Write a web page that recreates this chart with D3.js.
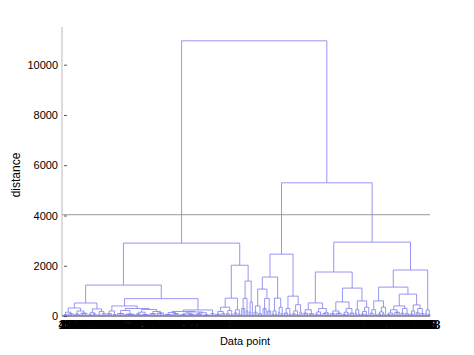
<!DOCTYPE html>
<html><head><meta charset="utf-8">
<script src="https://cdn.jsdelivr.net/npm/d3@7"></script>
<style>body{margin:0;background:#fff}svg{display:block}</style>
</head><body><svg id="c" width="474" height="355"></svg>
<script>
// Merge heights of the upper tree: root, L, R, LL, LR, RL, RR
const mergeHeights = [10950, 2900, 5300, 1230, 2020, 2460, 2940];
const yTicks = [0, 2000, 4000, 6000, 8000, 10000];
const cutoff = 4030;
// Subtrees: [height, ...children]; a bare number is a leaf (its label)
const LLL = [517,
  [320, [150, [60, 1,45,23], [90, 112,7,88,160]], [200, [70, 34,201,56,19], [110, 140,8,77,92,15]]],
  [280, [130, [50, 66,103,29], [80, 171,2,95]], [180, [40, 58,133,11], [100, 184,47,120]]]];
const LLR = [690,
  [400, [200, [90, 5,150,73,31], [60, 207,99,64]],
        [300, [220, [100, 18,125,86,42,169], [70, 33,210,57,101,144,21,166]],
              [260, [150, [80, 9,191,62,117], [60, 203,27,81,148,96]],
                    [180, [90, 40,155,14,76,229], [120, 110,52,186,3,139]]]]],
  [240, [180, [140, [60, 13,172,90,46,121], [90, 199,36,68,154,2]],
              [160, [110, [50, 83,118,25,204,61], [70, 141,10,97,177,219]],
                    [130, [80, 53,230,30,113,162], [40, 71,190,38,126,6]]]],
        [100, 85,174,48]]];
const LRL = [710,
  [350, [180, [70, 22,159,107,65], [100, 196,39,131]], [220, [90, 75,213,17], [60, 146,54]]],
  [250, [120, 181,28,93], [80, 206,59]]];
const LRR = [1390,
  [700, [300, 67,185,43], [200, 128,211]],
  [550, [150, 87,20], 164]];
const RLL = [1550,
  [1070, [400, [150, 16,197,79], [90, 134,50,223]], [700, [300, 104,37,178], [200, 60,215,122]]],
  [710, [200, [80, 32,151], [60, 89,170]], [350, [130, 200,12], [100, 143,74]]]];
const RLR = [790,
  [300, [120, 55,192,106], [70, 35,158]],
  [450, [200, [90, 119,4,226], [60, 72,187]], [150, 44,137]]];
const RRL = [1750,
  [520, [250, [110, 84,209,26,163], [90, 127,51,195,70]],
        [300, [160, [70, 100,24,176], [50, 147,63]], [130, [100, 217,41,111], [80, 182,98]]]],
  [1110, [560, [200, [90, 8,124,205,58], [110, 153,82,36,193]],
               [300, [150, [60, 116,29,224], [90, 66,179]], [120, 145,49,208]]],
         [600, [250, [100, 94,168], [70, 21,135]],
               [350, [180, [80, 212,57,102], [60, 173,15]], 129]]]];
const RRR = [1830,
  [1150, [600, [250, [110, 78,198,43], [60, 142,19]],
               [350, [160, [70, 227,61,105], [90, 175,30]], 152]],
         [870, [400, [250, [120, [60, 91,216,39], [80, 160,11]], [150, 123,69,189,47]],
                     [300, [110, 202,86,134], [90, 27,171,109]]],
               [440, [200, [80, 56,225,99], 150], [300, [130, 188,17,76], [100, 138,220,64]]]]],
  [240, [90, 115,183], [60, 31,228]]];

const [hRoot, hL, hR, hLL, hLR, hRL, hRR] = mergeHeights;
const tree = [hRoot, [hL, [hLL, LLL, LLR], [hLR, LRL, LRR]], [hR, [hRL, RLL, RLR], [hRR, RRL, RRR]]];

const svg = d3.select("#c");
const root = d3.hierarchy(tree, d => Array.isArray(d) ? d.slice(1) : null);
d3.cluster().size([1, 1]).separation(() => 1)(root);
const leaves = root.leaves();
const hOf = n => Array.isArray(n.data) ? n.data[0] : 0;

const x = d3.scaleLinear().domain([leaves[0].x, leaves[leaves.length - 1].x]).range([64, 430]);
const y = d3.scaleLinear().domain([0, 11500]).range([316, 27]);

// leaf labels (overlapping, as in the reference)
svg.append("g").selectAll("text").data(leaves).join("text")
  .attr("x", d => x(d.x)).attr("y", 329)
  .attr("text-anchor", "middle")
  .style("font", "bold 12.5px 'Liberation Sans', Arial, sans-serif").attr("fill", "#000")
  .text(d => d.data);

// y axis
const yAxis = d3.axisRight(y).tickValues(yTicks).tickSize(3).tickFormat(d3.format("d"));
const ga = svg.append("g").attr("transform", "translate(62,0)").call(yAxis);
ga.select(".domain").remove();
ga.selectAll(".tick line").attr("stroke", "#555").attr("x1", 2).attr("x2", 5);
ga.selectAll(".tick text").attr("x", -4).attr("text-anchor", "end")
  .style("font", "11px 'Liberation Sans', Arial, sans-serif").attr("fill", "#000");
svg.append("line").attr("x1", 62).attr("x2", 62).attr("y1", y(11500)).attr("y2", y(0))
  .attr("stroke", "#bbb").attr("stroke-width", 1);
svg.append("line").attr("x1", 62).attr("x2", 430).attr("y1", y(0)).attr("y2", y(0))
  .attr("stroke", "#334").attr("stroke-width", 1);

// cutoff line
svg.append("line").attr("x1", 62).attr("x2", 430).attr("y1", y(cutoff)).attr("y2", y(cutoff))
  .attr("stroke", "#999").attr("stroke-width", 1);

// dendrogram links
svg.append("g").selectAll("path").data(root.descendants().filter(d => d.parent)).join("path")
  .attr("d", d => `M${x(d.x)},${y(hOf(d))}V${y(hOf(d.parent))}H${x(d.parent.x)}`)
  .attr("fill", "none").attr("stroke", "#7b7bf0").attr("stroke-width", 0.8);

// titles
svg.append("text").attr("x", 245).attr("y", 345).attr("text-anchor", "middle")
  .style("font", "11px 'Liberation Sans', Arial, sans-serif").text("Data point");
svg.append("text").attr("transform", "translate(20,175) rotate(-90)").attr("text-anchor", "middle")
  .style("font", "12px 'Liberation Sans', Arial, sans-serif").text("distance");
</script></body></html>
